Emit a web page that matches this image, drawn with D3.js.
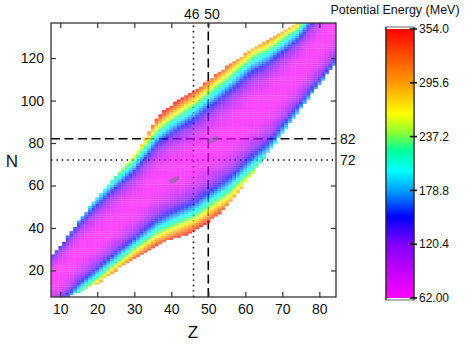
<!DOCTYPE html>
<html><head><meta charset="utf-8">
<script src="https://cdn.jsdelivr.net/npm/d3@7/dist/d3.min.js"></script>
<style>
html,body{margin:0;padding:0;background:#fff;}
svg{display:block;font-family:"Liberation Sans",Arial,sans-serif;}
</style></head>
<body>
<svg id="chart" width="474" height="353"></svg>
<script>
// ---- data ----
const zValues = d3.range(8, 85); // Z = 8 .. 84
// upper edge of existing band (max N) for Z = 8..84
const nHigh = [27,29,31,33,36,38,40,43,45,47,50,52,54,56,58,60,62,64,66,68,70,72,74,76,79,82,85,88,91,93,95,96,97,99,100,101,102,103,104,105,106,108,109,110,112,113,114,116,117,118,119,120,122,123,124,125,126,127,128,129,130,131,132,133,134,135,136,140,140,140,140,140,140,140,140,140,140];
// lower edge of existing band (min N) for Z = 8..84
const nLow = [0,0,0,0,8,9,10,10,11,12,13,14,14,15,17,18,19,20,22,23,24,25,26,27,28,29,30,31,32,33,34,35,35,36,36,37,37,38,39,40,41,42,43,45,46,47,49,51,53,55,57,59,62,64,66,69,71,73,76,78,80,83,85,87,90,92,94,97,99,101,104,106,108,110,113,115,117];
// potential-energy valley: centre N and half widths above / below (N units where E reaches 354 MeV)
const valleyZ  = [7, 10, 15, 20, 25, 30, 36, 40, 46, 56, 62, 66, 74, 85];
const valleyN  = [14, 18.1, 28, 35, 43, 50, 61.5, 66, 71.5, 84.4, 94, 98.5, 112.6, 136];
const valleyWu = [21, 22, 23, 27, 27, 28, 30, 31.5, 33, 34.3, 33.5, 32, 26.6, 26];
const valleyWl = [21, 22, 23.7, 23.6, 24.7, 25, 30, 31.5, 33, 34.3, 33.5, 32, 26.6, 26];
const profileFrac = [0, 0.2, 0.35, 0.5, 0.6, 0.7, 0.78, 0.86, 0.93, 1.0];
const profileE    = [62, 69, 88, 121, 152, 190, 227, 268, 309, 354];
// minima markers
const minimaZ = [40.8, 51.3];
const minimaN = [62.6, 81.5];
// reference lines
const refZ = [46, 50];
const refN = [72, 82];
const refStyle = ["dotted", "dashed"];
// axes
const zTicks = [10,20,30,40,50,60,70,80];
const nTicks = [20,40,60,80,100,120];
const cbTicks = [62.00,120.4,178.8,237.2,295.6,354.0];
const cbTickLabels = ["62.00","120.4","178.8","237.2","295.6","354.0"];
// colour map
const cbValues = [62, 90, 120, 150, 178.8, 200, 222, 242, 262, 295.6, 325, 354];
const cbColors = ["#ff00ff","#c400ff","#8000ff","#0000ff","#00a0ff","#00ffff","#00ff99","#90ff30","#ffff00","#ff9900","#ff5000","#ff0000"];

// ---- drawing ----
const svg = d3.select("#chart");
const x = d3.scaleLinear().domain([7.5, 84.5]).range([51, 336]);
const y = d3.scaleLinear().domain([7.5, 136.5]).range([297, 23]);
const color = d3.scaleLinear().domain(cbValues).range(cbColors).clamp(true);
const centre = d3.scaleLinear().domain(valleyZ).range(valleyN);
const widthUp = d3.scaleLinear().domain(valleyZ).range(valleyWu);
const widthLo = d3.scaleLinear().domain(valleyZ).range(valleyWl);
const profile = d3.scaleLinear().domain(profileFrac).range(profileE);

const dash = {dotted: "1.4,4", dashed: "9,4.5"};

svg.append("clipPath").attr("id","clip").append("rect")
  .attr("x",51).attr("y",23).attr("width",285).attr("height",274);

const plot = svg.append("g").attr("clip-path","url(#clip)");
// reference lines (under the translucent map)
refZ.forEach((v,i)=>{
  plot.append("line").attr("x1",x(v)).attr("x2",x(v)).attr("y1",y.range()[0]).attr("y2",y.range()[1])
    .attr("stroke","#000").attr("stroke-width",1.6).attr("stroke-dasharray",dash[refStyle[i]]);
});
refN.forEach((v,i)=>{
  plot.append("line").attr("y1",y(v)).attr("y2",y(v)).attr("x1",x.range()[0]).attr("x2",x.range()[1])
    .attr("stroke","#000").attr("stroke-width",1.6).attr("stroke-dasharray",dash[refStyle[i]]);
});

// cells
const cells = [];
zValues.forEach((z,i)=>{
  for (let n = Math.max(8, nLow[i]); n <= Math.min(136, nHigh[i]); n++) {
    const c = centre(z);
    const f = n >= c ? (n - c) / widthUp(z) : (c - n) / widthLo(z);
    const e = f >= 1 ? 354 : profile(f);
    cells.push({z, n, e});
  }
});
const cw = x(1) - x(0), ch = y(0) - y(1);
plot.append("g").attr("opacity",0.72)
  .selectAll("rect").data(cells).join("rect")
  .attr("x", d => x(d.z - 0.5)).attr("y", d => y(d.n + 0.5))
  .attr("width", cw + 0.3).attr("height", ch + 0.3)
  .attr("fill", d => color(d.e));

// minima markers
minimaZ.forEach((z,i)=>{
  plot.append("ellipse").attr("cx",x(z)).attr("cy",y(minimaN[i]))
    .attr("rx",6).attr("ry",2.6)
    .attr("transform",`rotate(-28,${x(z)},${y(minimaN[i])})`)
    .attr("fill","rgba(120,110,140,0.55)");
});

// axes
const axisColor = "#333";
function styleAxis(g){
  g.select(".domain").remove();
  g.selectAll(".tick line").attr("stroke",axisColor).attr("stroke-width",1.2);
  g.selectAll(".tick text").attr("fill","#111").style("font-size","14px")
    .style("font-family","'Liberation Sans',Arial,sans-serif");
}
svg.append("g").attr("transform","translate(0,297)")
  .call(d3.axisBottom(x).tickValues(zTicks).tickSizeInner(-5).tickSizeOuter(0).tickPadding(7)).call(styleAxis);
svg.append("g").attr("transform","translate(0,23)")
  .call(d3.axisTop(x).tickValues(zTicks).tickSizeInner(-5).tickSizeOuter(0).tickFormat("")).call(styleAxis);
svg.append("g").attr("transform","translate(51,0)")
  .call(d3.axisLeft(y).tickValues(nTicks).tickSizeInner(-5).tickSizeOuter(0).tickPadding(7)).call(styleAxis);
svg.append("g").attr("transform","translate(336,0)")
  .call(d3.axisRight(y).tickValues(nTicks).tickSizeInner(-5).tickSizeOuter(0).tickFormat("")).call(styleAxis);
svg.append("rect").attr("x",51).attr("y",23).attr("width",285).attr("height",274)
  .attr("fill","none").attr("stroke",axisColor).attr("stroke-width",1.3);

// reference labels
refZ.forEach((v,i)=>{
  svg.append("text").attr("x", i ? x(v) - 4 : x(v) + 6).attr("y",19)
    .attr("text-anchor", i ? "start" : "end")
    .style("font-size","14px").attr("fill","#111").text(v);
});
refN.forEach(v=>{
  svg.append("text").attr("x",340).attr("y",y(v)).attr("dy","0.35em")
    .style("font-size","14px").attr("fill","#111").text(v);
});

// axis titles
svg.append("text").attr("x",193).attr("y",338).attr("text-anchor","middle")
  .style("font-size","17px").attr("fill","#111").text("Z");
svg.append("text").attr("x",12).attr("y",167).attr("text-anchor","middle")
  .style("font-size","17px").attr("fill","#111").text("N");

// colour bar
const cb = d3.scaleLinear().domain([62, 354]).range([298, 29]);
const defs = svg.append("defs");
const grad = defs.append("linearGradient").attr("id","cbgrad")
  .attr("x1",0).attr("y1",1).attr("x2",0).attr("y2",0);
cbValues.forEach((v,i)=>{
  grad.append("stop").attr("offset",(v-62)/(354-62)).attr("stop-color",cbColors[i]);
});
svg.append("rect").attr("x",386).attr("y",27).attr("width",28).attr("height",273)
  .attr("fill","#fff").attr("stroke","#666").attr("stroke-width",1);
svg.append("rect").attr("x",386).attr("y",cb(354)).attr("width",28).attr("height",cb(62)-cb(354))
  .attr("fill","url(#cbgrad)");
svg.append("line").attr("x1",386).attr("x2",386).attr("y1",27).attr("y2",300).attr("stroke","#222").attr("stroke-width",1.2);
svg.append("line").attr("x1",414).attr("x2",414).attr("y1",27).attr("y2",300).attr("stroke","#222").attr("stroke-width",1.2);
cbTicks.forEach((v,i)=>{
  svg.append("line").attr("x1",410).attr("x2",417).attr("y1",cb(v)).attr("y2",cb(v))
    .attr("stroke","#111").attr("stroke-width",1.6);
  svg.append("text").attr("x",419).attr("y",cb(v)).attr("dy","0.35em")
    .style("font-size","12px").attr("fill","#111").text(cbTickLabels[i]);
});
svg.append("text").attr("x",395).attr("y",14).attr("text-anchor","middle")
  .style("font-size","12.5px").attr("fill","#111").text("Potential Energy (MeV)");
</script>
</body></html>
